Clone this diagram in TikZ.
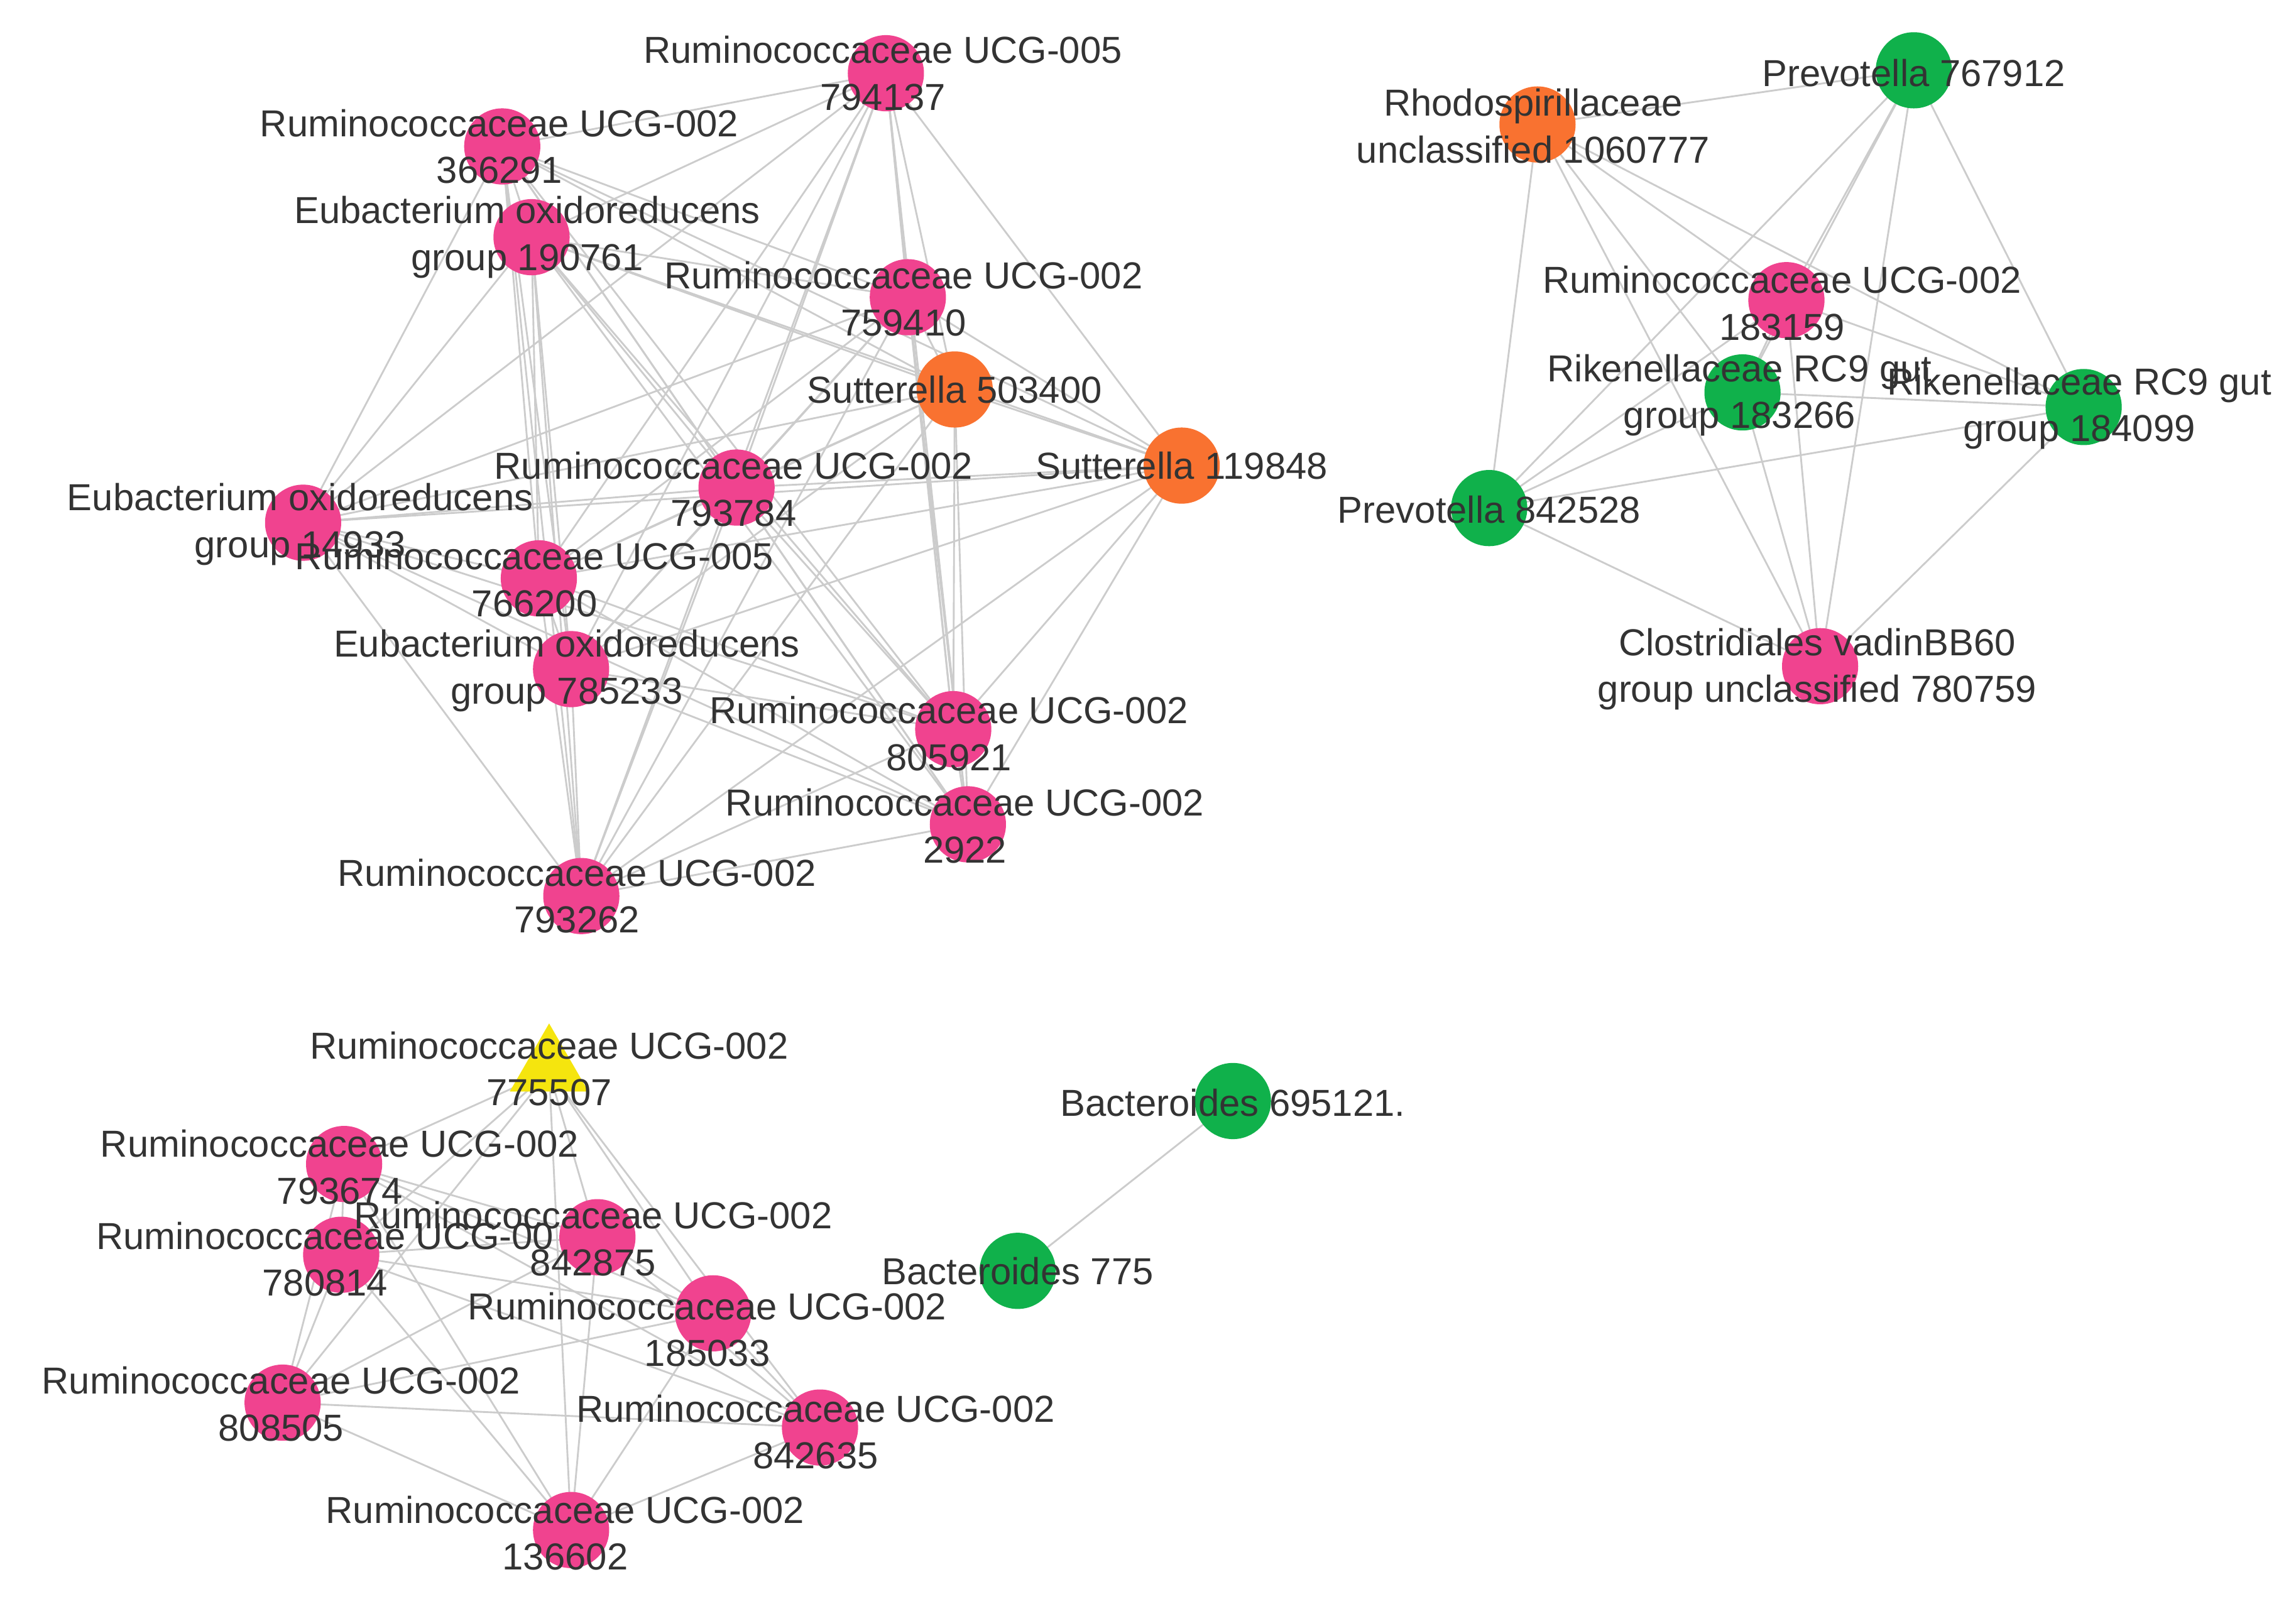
\documentclass[tikz,border=0pt]{standalone}
\usepackage{fontspec}
\setmainfont{Liberation Sans}
\usetikzlibrary{shapes.geometric}
\definecolor{pk}{HTML}{F0438F}
\definecolor{og}{HTML}{F97230}
\definecolor{gn}{HTML}{10B14B}
\definecolor{yl}{HTML}{F5E50E}
\definecolor{tx}{HTML}{333333}
\tikzset{
 dot/.style={circle,fill=#1,inner sep=0pt,minimum size=0.52cm},
 tri/.style={regular polygon,regular polygon sides=3,fill=#1,inner sep=0pt,minimum size=0.62cm},
 lab/.style={text=tx,font=\fontsize{7.3}{9.1}\selectfont,align=center,inner sep=0pt},
 ed/.style={draw=black!20,line width=0.35pt}
}
\newcommand{\nd}[7]{\node[#4] (#1) at (#2,#3) {};\node[lab] (#1l) at (#5,#6) {#7};}
\begin{document}
\begin{tikzpicture}[x=0.01cm,y=-0.01cm]
\useasboundingbox (0,0) rectangle (1568,1095.5);
\foreach \n/\x/\y in {A/605/50,B/343/100,C/363/162,D/620/203,E/652/266,F/807/318,G/503/333,H/207/357,I/368/395,J/390/457,K/651/498,L/661/563,M/397/612,
N/1050/85,O/1307/48,P/1220/205,Q/1190/268,R/1423/278,S/1017/347,T/1243/455,
U/375/732,V/235/795,W/408/845,X/233/857,Y/487/897,Z/193/958,AA/560/975,AB/390/1045,BA/842/752,BB/695/868}
 {\coordinate (\n) at (\x,\y);}
\foreach \a [count=\i] in {A,B,C,D,E,F,G,H,I,J,K,L,M}
 \foreach \b [count=\j] in {A,B,C,D,E,F,G,H,I,J,K,L,M}
  {\ifnum\i<\j \draw[ed] (\a)--(\b);\fi}
\foreach \a [count=\i] in {N,O,P,Q,R,S,T}
 \foreach \b [count=\j] in {N,O,P,Q,R,S,T}
  {\ifnum\i<\j \draw[ed] (\a)--(\b);\fi}
\foreach \a [count=\i] in {U,V,W,X,Y,Z,AA,AB}
 \foreach \b [count=\j] in {U,V,W,X,Y,Z,AA,AB}
  {\ifnum\i<\j \draw[ed] (\a)--(\b);\fi}
\draw[ed] (BA)--(BB);
\nd{a}{605}{50}{dot=pk}{603}{50}{Ruminococcaceae UCG-005\\794137}
\nd{b}{343}{100}{dot=pk}{341}{100}{Ruminococcaceae UCG-002\\366291}
\nd{c}{363}{162}{dot=pk}{360}{162}{Eubacterium oxidoreducens\\group 190761}
\nd{d}{620}{203}{dot=pk}{617}{204}{Ruminococcaceae UCG-002\\759410}
\nd{e}{652}{266}{dot=og}{652}{266}{Sutterella 503400}
\nd{f}{807}{318}{dot=og}{807}{318}{Sutterella 119848}
\nd{g}{503}{333}{dot=pk}{501}{334}{Ruminococcaceae UCG-002\\793784}
\nd{h}{207}{357}{dot=pk}{205}{358}{Eubacterium oxidoreducens\\group 14933}
\nd{i}{368}{395}{dot=pk}{365}{396}{Ruminococcaceae UCG-005\\766200}
\nd{j}{390}{457}{dot=pk}{387}{458}{Eubacterium oxidoreducens\\group 785233}
\nd{k}{651}{498}{dot=pk}{648}{501}{Ruminococcaceae UCG-002\\805921}
\nd{l}{661}{563}{dot=pk}{659}{564}{Ruminococcaceae UCG-002\\2922}
\nd{m}{397}{612}{dot=pk}{394}{612}{Ruminococcaceae UCG-002\\793262}
\nd{n}{1050}{85}{dot=og}{1047}{86}{Rhodospirillaceae\\unclassified 1060777}
\nd{o}{1307}{48}{dot=gn}{1307}{50}{Prevotella 767912}
\nd{p}{1220}{205}{dot=pk}{1217}{207}{Ruminococcaceae UCG-002\\183159}
\nd{q}{1190}{268}{dot=gn}{1188}{270}{Rikenellaceae RC9 gut\\group 183266}
\nd{r}{1423}{278}{dot=gn}{1420}{279}{Rikenellaceae RC9 gut\\group 184099}
\nd{s}{1017}{347}{dot=gn}{1017}{348}{Prevotella 842528}
\nd{t}{1243}{455}{dot=pk}{1241}{457}{Clostridiales vadinBB60\\group unclassified 780759}
\nd{u}{375}{730}{tri=yl}{375}{730}{Ruminococcaceae UCG-002\\775507}
\nd{v}{235}{795}{dot=pk}{232}{797}{Ruminococcaceae UCG-002\\793674}
\nd{x}{233}{857}{dot=pk}{222}{860}{Ruminococcaceae UCG-00\\780814}
\nd{w}{408}{845}{dot=pk}{405}{846}{Ruminococcaceae UCG-002\\842875}
\nd{y}{487}{897}{dot=pk}{483}{908}{Ruminococcaceae UCG-002\\185033}
\nd{z}{193}{958}{dot=pk}{192}{959}{Ruminococcaceae UCG-002\\808505}
\nd{aa}{560}{975}{dot=pk}{557}{978}{Ruminococcaceae UCG-002\\842635}
\nd{ab}{390}{1045}{dot=pk}{386}{1047}{Ruminococcaceae UCG-002\\136602}
\nd{ba}{842}{752}{dot=gn}{842}{753}{Bacteroides 695121.}
\nd{bb}{695}{868}{dot=gn}{695}{868}{Bacteroides 775}
\end{tikzpicture}
\end{document}
